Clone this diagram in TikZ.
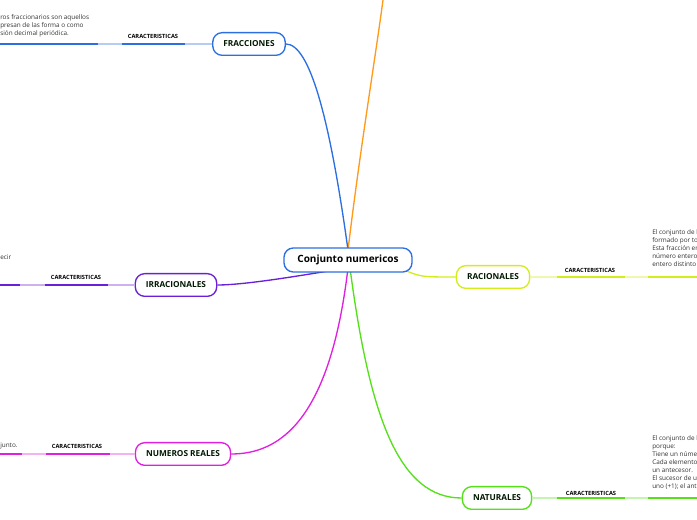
\documentclass[tikz,border=0pt]{standalone}
\usepackage{fontspec}
\setmainfont{Open Sans}
\begin{document}
\begin{tikzpicture}[x=0.75pt,y=-0.75pt,
  topic/.style={draw=#1,rounded corners=7pt,line width=1pt,fill=white,minimum height=17pt,inner xsep=8pt,font=\fontsize{6.2}{7}\selectfont\bfseries,text=black!75!green!40!black},
  car/.style={font=\fontsize{4.3}{5}\selectfont\bfseries,inner sep=0pt},
  txt/.style={font=\fontsize{4.8}{6.1}\selectfont,align=left,anchor=north west,inner sep=0pt,text=black!80},
  conn/.style={line width=1pt,draw=#1}]
\definecolor{colB}{HTML}{2B6FE0}\definecolor{colP}{HTML}{6A1FD8}\definecolor{colM}{HTML}{E020E0}
\definecolor{colY}{HTML}{D4EC1A}\definecolor{colG}{HTML}{55E01A}\definecolor{colO}{HTML}{FF9A1A}
\clip (0,0) rectangle (697,520);
\useasboundingbox (0,0) rectangle (697,520);
\coordinate (top) at (383,0);
\coordinate (fl) at (0,44);\coordinate (il) at (0,285);\coordinate (rl) at (0,454);
\coordinate (ra) at (697,277);\coordinate (na) at (697,498);
\draw[conn=colO] (348,250) .. controls (360,150) and (375,60) .. (top);
\node[topic=colB] (fr) at (249,44) {FRACCIONES};
\node[topic=colP] (ir) at (176,285) {IRRACIONALES};
\node[topic=colM] (nr) at (183,454) {NUMEROS REALES};
\node[topic=colY] (ra1) at (493,277) {RACIONALES};
\node[topic=colG] (na1) at (497,498) {NATURALES};
\draw[conn=colB] (348,250) .. controls (330,120) and (310,44) .. (fr.east);
\draw[conn=colP] (348,268) .. controls (320,272) and (250,285) .. (ir.east);
\draw[conn=colM] (348,268) .. controls (330,420) and (280,454) .. (nr.east);
\draw[conn=colY] (400,268) .. controls (420,277) .. (ra1.west);
\draw[conn=colG] (350,268) .. controls (370,420) and (400,498) .. (na1.west);
\node[draw=colB,rounded corners=7pt,line width=1pt,fill=white,minimum width=96pt,minimum height=18pt,font=\fontsize{7.5}{9}\selectfont\bfseries] (c) at (348,260) {Conjunto numericos};
\draw[colB!35,line width=1pt] (fr.west) -- (fl);
\draw[colB,line width=1pt] (122,44) -- (185,44) (0,44) -- (98,44);
\node[car] (f1) at (153,36) {CARACTERISTICAS};
\draw[colP!35,line width=1pt] (ir.west) -- (il);
\draw[colP,line width=1pt] (45,285) -- (108,285) (0,285) -- (20,285);
\node[car] (i1) at (76,277) {CARACTERISTICAS};
\draw[colM!35,line width=1pt] (nr.west) -- (rl);
\draw[colM,line width=1pt] (46,454) -- (110,454) (0,454) -- (22,454);
\node[car] (r1) at (77,446) {CARACTERISTICAS};
\draw[colY!35,line width=1pt] (ra1.east) -- (ra);
\draw[colY,line width=1pt] (557,277) -- (625,277) (648,277) -- (697,277);
\node[car] (a1) at (590,270) {CARACTERISTICAS};
\draw[colG!35,line width=1pt] (na1.east) -- (na);
\draw[colG,line width=1pt] (557,498) -- (625,498) (648,498) -- (697,498);
\node[car] (n1) at (591,493) {CARACTERISTICAS};
\node[txt] (t1) at (0,14) {ros fraccionarios son aquellos\\presan de las forma o como\\sión decimal periódica.};
\node[txt] (t2) at (0,255) {ecir};
\node[txt] (t3) at (0,443) {junto.};
\node[txt] (t4) at (652,229) {El conjunto de los\\formado por todos\\Esta fracción en\\número entero\\entero distinto de};
\node[txt] (t5) at (652,435) {El conjunto de los\\porque:\\Tiene un número\\Cada elemento\\un antecesor.\\El sucesor de un\\uno (+1); el anterior};
\end{tikzpicture}
\end{document}
